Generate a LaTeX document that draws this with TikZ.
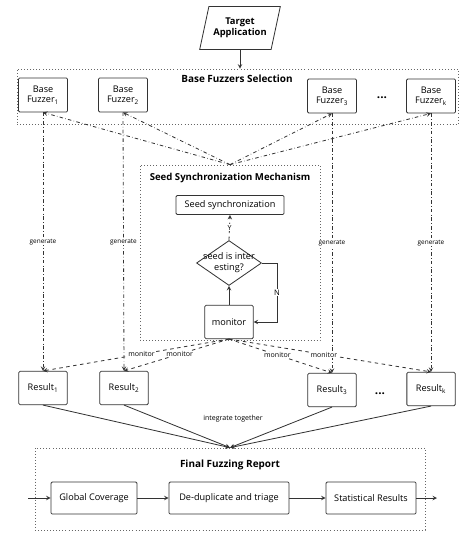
\documentclass[tikz,border=0pt]{standalone}
\usepackage{fontspec}
\setmainfont{Open Sans}
\usetikzlibrary{arrows.meta, shapes.geometric, fit}

\tikzset{
  box/.style={draw=black!80, rounded corners=1pt, line width=0.7pt, fill=white,
    align=center, inner sep=1pt, font=\fontsize{7.8}{9.2}\selectfont},
  fuzz/.style={box, minimum width=1.47cm, minimum height=1.02cm},
  res/.style={box, minimum width=1.45cm, minimum height=1.0cm},
  step box/.style={box, minimum height=0.96cm},
  group/.style={draw=black!60, dotted, line width=0.6pt, inner sep=0pt},
  gtitle/.style={font=\bfseries\fontsize{8.5}{10}\selectfont},
  lab/.style={fill=white, inner sep=0.6pt, font=\fontsize{5.5}{6}\selectfont},
  gen/.style={->, dash dot, draw=black!80, line width=0.7pt},
  monline/.style={->, dashed, draw=black!80, line width=0.7pt},
  link/.style={->, draw=black!80, line width=0.7pt},
}

\begin{document}
\begin{tikzpicture}[x=0.03cm, y=-0.03cm, >=stealth]
  \useasboundingbox (0,0) rectangle (474,541);

  \node[trapezium, trapezium left angle=72, trapezium right angle=108, trapezium stretches=true,
    draw=black!80, line width=0.7pt, minimum width=2.43cm, minimum height=1.29cm,
    align=center, font=\bfseries\fontsize{8}{9.5}\selectfont] (app) at (240,28) {Target\\Application};

  \node[group, fit={(17,69) (458,124)}] (sel) {};
  \node[gtitle] at (237,79) {Base Fuzzers Selection};
  \node[fuzz] (f1) at (43,95) {Base\\Fuzzer\textsubscript{1}};
  \node[fuzz] (f2) at (123,95) {Base\\Fuzzer\textsubscript{2}};
  \node[fuzz] (f3) at (332,96) {Base\\Fuzzer\textsubscript{3}};
  \node[fuzz] (fk) at (431,96) {Base\\Fuzzer\textsubscript{k}};
  \node[font=\bfseries] (fdots) at (382,98) {...};
  \draw[link] (app.south) -- (app.south |- sel.north);

  \node[group, fit={(140,165) (320,340)}] (seed) {};
  \node[gtitle, font=\bfseries\fontsize{8.2}{10}\selectfont] at (230,178) {Seed Synchronization Mechanism};
  \node[box, minimum width=3.24cm, minimum height=0.57cm] (sync) at (230,205) {Seed synchronization};
  \node[diamond, draw=black!80, line width=0.7pt, minimum width=1.95cm, minimum height=1.35cm,
    inner sep=0pt] (check) at (229,263) {};
  \node[align=center, font=\fontsize{7.8}{9.2}\selectfont] at (check) {seed is inter\\esting?};
  \node[res] (watch) at (229,322) {monitor};
  \coordinate (nback) at (277,263);

  \draw[monline] (check.north) -- node[lab, font=\fontsize{6}{7}\selectfont] {Y} (sync.south);
  \draw[link] (watch.north) -- (check.south);
  \draw[link] (check.east) -- (nback) |- node[lab, pos=0.25, font=\fontsize{6.5}{7}\selectfont] {N} (watch.east);

  \foreach \f in {f1,f2,f3,fk}
    \draw[gen] (seed.north) -- (\f.south);

  \node[res] (r1) at (43,388) {Result\textsubscript{1}};
  \node[res] (r2) at (124,388) {Result\textsubscript{2}};
  \node[res] (r3) at (332,390) {Result\textsubscript{3}};
  \node[res] (rk) at (431,389) {Result\textsubscript{k}};
  \node[font=\bfseries] (rdots) at (380,394) {...};

  \foreach \i in {1,2,3,k}
    \draw[gen] (f\i.south) -- node[lab] {generate} (r\i.north);
  \foreach \i in {1,2,3,k}
    \draw[monline] (watch.south) -- node[lab, pos=0.47, font=\fontsize{6}{7}\selectfont] {monitor} (r\i.north);

  \node[group, fit={(35,448) (425,530)}] (report) {};
  \node[gtitle] at (230,465) {Final Fuzzing Report};
  \foreach \i in {1,2,3,k}
    \draw[link] (r\i.south) -- (report.north);
  \node[font=\fontsize{6}{7}\selectfont] (integ) at (233,419) {integrate together};

  \node[step box, minimum width=2.58cm] (cover) at (94,498) {Global Coverage};
  \node[step box, minimum width=3.6cm] (dedup) at (229,498) {De-duplicate and triage};
  \node[step box, minimum width=2.7cm] (stats) at (371,498) {Statistical Results};
  \coordinate (in) at (28,498);
  \coordinate (out) at (437,498);
  \draw[link] (in) -- (cover);
  \draw[link] (cover) -- (dedup);
  \draw[link] (dedup) -- (stats);
  \draw[link] (stats) -- (out);
\end{tikzpicture}
\end{document}
